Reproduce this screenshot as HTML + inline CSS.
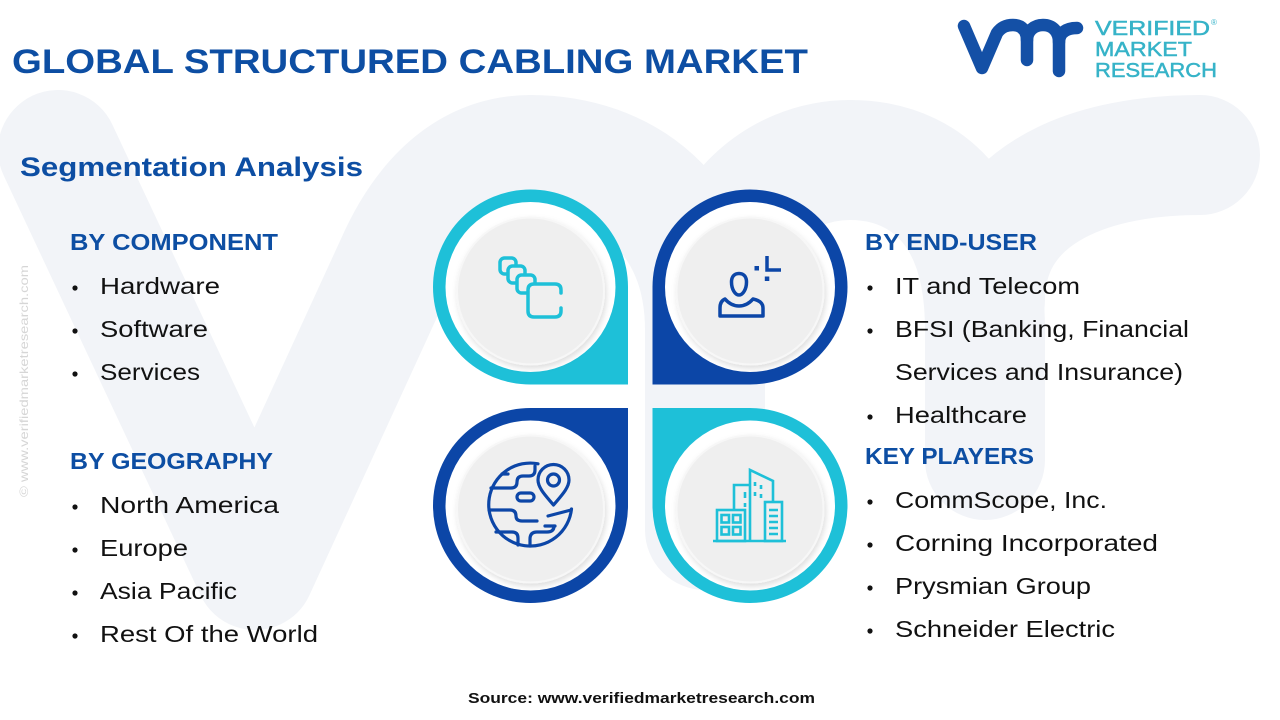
<!DOCTYPE html>
<html>
<head>
<meta charset="utf-8">
<style>
  html,body{margin:0;padding:0;background:#ffffff;}
  svg{display:block;}
  .t{font-family:"Liberation Sans",Arial,sans-serif;}
</style>
</head>
<body>
<svg width="1280" height="720" viewBox="0 0 1280 720" xmlns="http://www.w3.org/2000/svg">
  <defs>
    <filter id="sh" x="-20%" y="-20%" width="140%" height="140%">
      <feDropShadow dx="1.5" dy="3" stdDeviation="3" flood-color="#000" flood-opacity="0.13"/>
    </filter>
  </defs>
  <rect x="0" y="0" width="1280" height="720" fill="#ffffff"/>

  <!-- faint watermark vmr -->
  <g fill="none" stroke="#f2f4f8" stroke-width="120" stroke-linecap="round" stroke-linejoin="round">
    <path d="M 58,150 L 255,570 L 395,265 C 430,185 480,155 530,155 C 625,155 705,215 705,330 L 705,530"/>
    <path d="M 705,330 C 705,215 780,160 850,160 C 940,160 985,230 985,330 L 985,460"/>
    <path d="M 985,300 C 985,200 1080,155 1200,155"/>
  </g>

  <!-- Title -->
  <text class="t" x="12" y="73" font-size="34" font-weight="700" fill="#0d4ea3" textLength="796" lengthAdjust="spacingAndGlyphs">GLOBAL STRUCTURED CABLING MARKET</text>

  <!-- Logo -->
  <g fill="none" stroke="#1450a6" stroke-width="12.5" stroke-linecap="round" stroke-linejoin="round">
    <path d="M 964,26 L 982,68 L 997,33 C 1002,26 1008,25 1013,25 C 1022,25 1027,31 1027,40 L 1027,60"/>
    <path d="M 1027,40 C 1027,31 1034,25 1043,25 C 1053,25 1059,32 1059,42 L 1059,71"/>
    <path d="M 1059,42 C 1059,33 1066,28 1077,28"/>
  </g>
  <g class="t" fill="#36b3c8" stroke="#36b3c8" stroke-width="0.5" font-size="20.5" font-weight="400">
    <text x="1095" y="35" textLength="115" lengthAdjust="spacingAndGlyphs">VERIFIED</text>
    <text x="1095" y="56" textLength="97" lengthAdjust="spacingAndGlyphs">MARKET</text>
    <text x="1095" y="77" textLength="122" lengthAdjust="spacingAndGlyphs">RESEARCH</text>
  </g>
  <text class="t" x="1211" y="25" font-size="8" fill="#36b3c8">®</text>

  <!-- vertical side watermark -->
  <text class="t" transform="translate(28,497) rotate(-90)" x="0" y="0" font-size="12" fill="#d6d6d6" textLength="232" lengthAdjust="spacingAndGlyphs">© www.verifiedmarketresearch.com</text>

  <!-- Segmentation Analysis -->
  <text class="t" x="20" y="176" font-size="26.5" font-weight="700" fill="#0d4ea3" textLength="343" lengthAdjust="spacingAndGlyphs">Segmentation Analysis</text>

  <!-- Left column -->
  <g class="t" fill="#0d4ea3" font-weight="700" font-size="23.5">
    <text x="70" y="250" textLength="208" lengthAdjust="spacingAndGlyphs">BY COMPONENT</text>
    <text x="70" y="469" textLength="203" lengthAdjust="spacingAndGlyphs">BY GEOGRAPHY</text>
  </g>
  <g class="t" fill="#111111" font-size="23">
    <text x="100" y="294" textLength="120" lengthAdjust="spacingAndGlyphs">Hardware</text>
    <text x="100" y="337" textLength="108" lengthAdjust="spacingAndGlyphs">Software</text>
    <text x="100" y="380" textLength="100" lengthAdjust="spacingAndGlyphs">Services</text>
    <text x="100" y="513" textLength="179" lengthAdjust="spacingAndGlyphs">North America</text>
    <text x="100" y="556" textLength="88" lengthAdjust="spacingAndGlyphs">Europe</text>
    <text x="100" y="599" textLength="137" lengthAdjust="spacingAndGlyphs">Asia Pacific</text>
    <text x="100" y="642" textLength="218" lengthAdjust="spacingAndGlyphs">Rest Of the World</text>
  </g>
  <g fill="#111111">
    <circle cx="75" cy="288" r="2.6"/>
    <circle cx="75" cy="331" r="2.6"/>
    <circle cx="75" cy="374" r="2.6"/>
    <circle cx="75" cy="507" r="2.6"/>
    <circle cx="75" cy="550" r="2.6"/>
    <circle cx="75" cy="593" r="2.6"/>
    <circle cx="75" cy="636" r="2.6"/>
  </g>

  <!-- Right column -->
  <g class="t" fill="#0d4ea3" font-weight="700" font-size="23.5">
    <text x="865" y="250" textLength="172" lengthAdjust="spacingAndGlyphs">BY END-USER</text>
    <text x="865" y="464" textLength="169" lengthAdjust="spacingAndGlyphs">KEY PLAYERS</text>
  </g>
  <g class="t" fill="#111111" font-size="23">
    <text x="895" y="294" textLength="185" lengthAdjust="spacingAndGlyphs">IT and Telecom</text>
    <text x="895" y="337" textLength="294" lengthAdjust="spacingAndGlyphs">BFSI (Banking, Financial</text>
    <text x="895" y="380" textLength="288" lengthAdjust="spacingAndGlyphs">Services and Insurance)</text>
    <text x="895" y="423" textLength="132" lengthAdjust="spacingAndGlyphs">Healthcare</text>
    <text x="895" y="508" textLength="212" lengthAdjust="spacingAndGlyphs">CommScope, Inc.</text>
    <text x="895" y="551" textLength="263" lengthAdjust="spacingAndGlyphs">Corning Incorporated</text>
    <text x="895" y="594" textLength="196" lengthAdjust="spacingAndGlyphs">Prysmian Group</text>
    <text x="895" y="637" textLength="220" lengthAdjust="spacingAndGlyphs">Schneider Electric</text>
  </g>
  <g fill="#111111">
    <circle cx="870" cy="288" r="2.6"/>
    <circle cx="870" cy="331" r="2.6"/>
    <circle cx="870" cy="417" r="2.6"/>
    <circle cx="870" cy="502" r="2.6"/>
    <circle cx="870" cy="545" r="2.6"/>
    <circle cx="870" cy="588" r="2.6"/>
    <circle cx="870" cy="631" r="2.6"/>
  </g>

  <!-- Central graphic: quadrants -->
  <path d="M 433,287 A 97.5 97.5 0 0 1 530.5,189.5 A 97.5 97.5 0 0 1 628,287 L 628,384.5 L 530.5,384.5 A 97.5 97.5 0 0 1 433,287 Z" fill="#1ec0d8"/>
  <path d="M 652.5,287 A 97.5 97.5 0 0 1 750,189.5 A 97.5 97.5 0 0 1 847.5,287 A 97.5 97.5 0 0 1 750,384.5 L 652.5,384.5 Z" fill="#0c46a7"/>
  <path d="M 433,505.5 A 97.5 97.5 0 0 1 530.5,408 L 628,408 L 628,505.5 A 97.5 97.5 0 0 1 530.5,603 A 97.5 97.5 0 0 1 433,505.5 Z" fill="#0c46a7"/>
  <path d="M 652.5,408 L 750,408 A 97.5 97.5 0 0 1 847.5,505.5 A 97.5 97.5 0 0 1 750,603 A 97.5 97.5 0 0 1 652.5,505.5 Z" fill="#1ec0d8"/>

  <circle cx="530.5" cy="287" r="85" fill="#ffffff"/>
  <circle cx="750" cy="287" r="85" fill="#ffffff"/>
  <circle cx="530.5" cy="505.5" r="85" fill="#ffffff"/>
  <circle cx="750" cy="505.5" r="85" fill="#ffffff"/>

  <g filter="url(#sh)">
    <circle cx="530.5" cy="291" r="73.5" fill="#efefef" stroke="#f7f7f7" stroke-width="2"/>
    <circle cx="750" cy="291" r="73.5" fill="#efefef" stroke="#f7f7f7" stroke-width="2"/>
    <circle cx="530.5" cy="509" r="73.5" fill="#efefef" stroke="#f7f7f7" stroke-width="2"/>
    <circle cx="750" cy="509" r="73.5" fill="#efefef" stroke="#f7f7f7" stroke-width="2"/>
  </g>

  <!-- TL icon: stacked rounded squares -->
  <g fill="#efefef" stroke="#1ec0d8" stroke-width="3.5" stroke-linejoin="round" stroke-linecap="round">
    <rect x="500" y="258" width="16" height="16" rx="4.5"/>
    <rect x="508" y="266" width="17" height="17" rx="4.5"/>
    <rect x="517" y="275" width="18" height="18" rx="4.5"/>
  </g>
  <rect x="528" y="284" width="33" height="33" rx="6" fill="#efefef"/>
  <path d="M 561,293 L 561,290 Q 561,284 555,284 L 534,284 Q 528,284 528,290 L 528,311 Q 528,317 534,317 L 555,317 Q 561,317 561,311 L 561,308" fill="none" stroke="#1ec0d8" stroke-width="3.5" stroke-linecap="round"/>

  <!-- TR icon: person -->
  <g fill="none" stroke="#0c46a7" stroke-width="3.5" stroke-linejoin="round">
    <path d="M 739,273.5 C 744,273.5 746.5,277 746.5,282 C 746.5,289 743,295 739,295 C 735,295 731.5,289 731.5,282 C 731.5,277 734,273.5 739,273.5 Z"/>
    <path d="M 720,316 L 763,316 L 763,308 Q 763,301 753,299 Q 747,306 739,306 Q 731,306 725,299 Q 720,301 720,308 Z"/>
    <path d="M 767,256 L 767,270 L 781,270" stroke-linejoin="miter"/>
  </g>
  <g fill="#0c46a7">
    <rect x="754.5" y="266" width="4.5" height="4.5"/>
    <rect x="764.8" y="276.5" width="4.5" height="4.5"/>
  </g>

  <!-- BL icon: globe with pin -->
  <g fill="none" stroke="#0c46a7" stroke-width="3.2" stroke-linecap="round" stroke-linejoin="round">
    <path d="M 538,463.8 A 41.5 41.5 0 1 0 571.5,509"/>
    <path d="M 553.5,505 C 546,496 538,488 538,480 A 15.5 15.5 0 0 1 569,480 C 569,488 561,496 553.5,505 Z"/>
    <circle cx="553.5" cy="480" r="6"/>
    <path d="M 491,488 L 511,488 Q 517,488 517,482 Q 517,476 523,476 L 529,476 Q 535,476 535,470 L 535,466"/>
    <path d="M 502,474 L 508,474"/>
    <rect x="517" y="493" width="17" height="8" rx="4"/>
    <path d="M 489,510 L 510,510 Q 516,510 516,516 Q 516,521 522,521 L 537,521"/>
    <path d="M 548,516 L 571,510"/>
    <path d="M 545,526 L 555,526"/>
    <path d="M 496,532 L 512,532 Q 518,532 518,538 L 518,545"/>
    <path d="M 530,546 L 530,539 Q 530,532 537,532 L 547,532 Q 554,532 554,526"/>
  </g>

  <!-- BR icon: buildings -->
  <g fill="none" stroke="#1ec0d8" stroke-width="2.6" stroke-linejoin="miter">
    <path d="M 713,541 L 786,541"/>
    <rect x="717" y="510" width="28" height="31"/>
    <rect x="721.5" y="515" width="7.5" height="7.5"/>
    <rect x="733" y="515" width="7.5" height="7.5"/>
    <rect x="721.5" y="527" width="7.5" height="7.5"/>
    <rect x="733" y="527" width="7.5" height="7.5"/>
    <path d="M 734,510 L 734,485 L 750,485"/>
    <path d="M 750,541 L 750,470 L 773,481 L 773,502"/>
    <rect x="765" y="502" width="17" height="39"/>
    <path d="M 769,510 L 778,510 M 769,516 L 778,516 M 769,522 L 778,522 M 769,528 L 778,528 M 769,534 L 778,534"/>
    <path d="M 755,482 L 755,486 M 761,485 L 761,489 M 755,492 L 755,496 M 761,494 L 761,498"/>
    <path d="M 745,492 L 745,498 M 745,503 L 745,507"/>
  </g>

  <!-- Source -->
  <text class="t" x="468" y="703" font-size="15" font-weight="700" fill="#111111" textLength="347" lengthAdjust="spacingAndGlyphs">Source: www.verifiedmarketresearch.com</text>
</svg>
</body>
</html>
